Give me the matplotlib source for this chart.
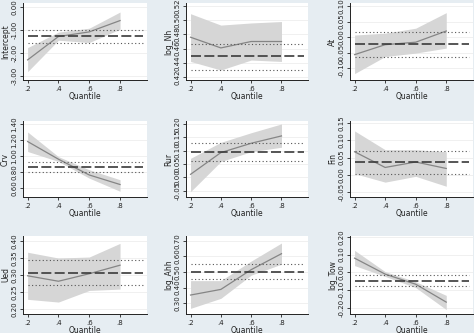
#!/usr/bin/env python3
# -*- coding: utf-8 -*-

import matplotlib
matplotlib.use("Agg")
import matplotlib.pyplot as plt

# quantile grid used for every panel
quantiles = [0.2, 0.4, 0.6, 0.8]
xticks = [0.2, 0.4, 0.6, 0.8]
xticklabels = [".2", ".4", ".6", ".8"]

# coefficient, lower CI, upper CI at each quantile; OLS = [coef, lo, hi]
intercept_q = [-2.30, -1.29, -1.09, -0.60]
intercept_lo = [-2.81, -1.45, -1.55, -0.97]
intercept_hi = [-1.77, -1.10, -0.93, -0.23]
intercept_ols = [-1.26, -1.55, -1.00]
intercept_ticks = [-3.0, -2.0, -1.0, 0.0]

lognh_q = [0.476, 0.461, 0.470, 0.470]
lognh_lo = [0.442, 0.430, 0.444, 0.442]
lognh_hi = [0.509, 0.493, 0.496, 0.498]
lognh_ols = [0.449, 0.430, 0.467]
lognh_ticks = [0.42, 0.44, 0.46, 0.48, 0.50, 0.52]

at_q = [-0.056, -0.024, -0.016, 0.020]
at_lo = [-0.117, -0.062, -0.051, -0.035]
at_hi = [0.007, 0.013, 0.029, 0.079]
at_ols = [-0.022, -0.064, 0.016]
at_ticks = [-0.10, -0.05, 0.00, 0.05, 0.10]

crv_q = [1.18, 0.958, 0.76, 0.64]
crv_lo = [1.055, 0.93, 0.72, 0.555]
crv_hi = [1.30, 0.99, 0.825, 0.70]
crv_ols = [0.858, 0.80, 0.925]
crv_ticks = [0.60, 0.80, 1.00, 1.20, 1.40]

rur_q = [0.011, 0.0925, 0.1275, 0.155]
rur_lo = [-0.054, 0.059, 0.096, 0.1125]
rur_hi = [0.071, 0.131, 0.167, 0.200]
rur_ols = [0.096, 0.0625, 0.128]
rur_ticks = [-0.05, 0.00, 0.05, 0.10, 0.15, 0.20]

fin_q = [0.067, 0.021, 0.037, 0.018]
fin_lo = [0.003, -0.022, -0.005, -0.034]
fin_hi = [0.128, 0.073, 0.073, 0.067]
fin_ols = [0.037, 0.003, 0.070]
fin_ticks = [-0.05, 0.00, 0.05, 0.10, 0.15]

ued_q = [0.298, 0.282, 0.304, 0.329]
ued_lo = [0.229, 0.221, 0.255, 0.259]
ued_hi = [0.367, 0.350, 0.353, 0.393]
ued_ols = [0.307, 0.270, 0.344]
ued_ticks = [0.20, 0.25, 0.30, 0.35, 0.40]

logahh_q = [0.353, 0.389, 0.515, 0.617]
logahh_lo = [0.268, 0.332, 0.480, 0.550]
logahh_hi = [0.445, 0.445, 0.570, 0.685]
logahh_ols = [0.500, 0.453, 0.553]
logahh_ticks = [0.30, 0.40, 0.50, 0.60, 0.70]

logtow_q = [0.080, -0.010, -0.067, -0.168]
logtow_lo = [0.038, -0.023, -0.086, -0.210]
logtow_hi = [0.124, 0.004, -0.053, -0.130]
logtow_ols = [-0.048, -0.076, -0.015]
logtow_ticks = [-0.20, -0.10, 0.00, 0.10, 0.20]

panels = [
    ("Intercept", intercept_q, intercept_lo, intercept_hi, intercept_ols, intercept_ticks, (-3.17, 0.16)),
    ("log_Nh", lognh_q, lognh_lo, lognh_hi, lognh_ols, lognh_ticks, (0.416, 0.524)),
    ("At", at_q, at_lo, at_hi, at_ols, at_ticks, (-0.1375, 0.11)),
    ("Crv", crv_q, crv_lo, crv_hi, crv_ols, crv_ticks, (0.483, 1.438)),
    ("Rur", rur_q, rur_lo, rur_hi, rur_ols, rur_ticks, (-0.074, 0.211)),
    ("Fin", fin_q, fin_lo, fin_hi, fin_ols, fin_ticks, (-0.0655, 0.157)),
    ("Ued", ued_q, ued_lo, ued_hi, ued_ols, ued_ticks, (0.186, 0.4146)),
    ("log_Ahh", logahh_q, logahh_lo, logahh_hi, logahh_ols, logahh_ticks, (0.232, 0.73)),
    ("log_Tow", logtow_q, logtow_lo, logtow_hi, logtow_ols, logtow_ticks, (-0.235, 0.205)),
]

W, H = 474, 333
BG = "#e6edf2"
col_edges = [(23, 147), (186, 308), (350, 473)]
row_edges = [(3, 80), (121, 197), (236, 314)]

fig = plt.figure(figsize=(W / 100, H / 100), dpi=100, facecolor=BG)

for i, (name, q, lo, hi, ols, ticks, ylim) in enumerate(panels):
    r, c = divmod(i, 3)
    x0, x1 = col_edges[c]
    y0, y1 = row_edges[r]
    ax = fig.add_axes([x0 / W, 1 - y1 / H, (x1 - x0) / W, (y1 - y0) / H])
    ax.set_facecolor("white")

    for t in ticks:
        ax.axhline(t, color="#eeeeee", lw=0.6, zorder=0)

    ax.fill_between(quantiles, lo, hi, color="#d6d6d6", lw=0, zorder=1)
    ax.plot(quantiles, q, color="#858585", lw=0.9, zorder=2)

    # OLS estimate and its confidence bounds
    xo = [0.2, 0.95]
    ax.plot(xo, [ols[0]] * 2, color="#3a3a3a", lw=1.2, dashes=(6, 2), zorder=3)
    ax.plot(xo, [ols[1]] * 2, color="#555555", lw=0.8, dashes=(1, 2.2), zorder=3)
    ax.plot(xo, [ols[2]] * 2, color="#555555", lw=0.8, dashes=(1, 2.2), zorder=3)

    ax.set_xlim(0.17, 0.975)
    ax.set_ylim(*ylim)
    ax.set_xticks(xticks)
    ax.set_xticklabels(xticklabels)
    ax.set_yticks(ticks)
    ax.set_yticklabels(["%.2f" % t for t in ticks])
    ax.tick_params(axis="both", labelsize=5, length=2.5, width=0.6,
                   pad=1.5, colors="#222222")
    ax.tick_params(axis="y", labelrotation=90)
    for lbl in ax.get_yticklabels():
        lbl.set_va("center")

    for side in ["top", "right"]:
        ax.spines[side].set_visible(False)
    for side in ["left", "bottom"]:
        ax.spines[side].set_linewidth(0.7)
        ax.spines[side].set_color("#222222")

    ax.set_xlabel("Quantile", fontsize=5.5, labelpad=0.5, color="#222222")
    ax.set_ylabel(name, fontsize=5.5, labelpad=1, color="#222222")

fig.savefig("out.png", dpi=100, facecolor=BG)
